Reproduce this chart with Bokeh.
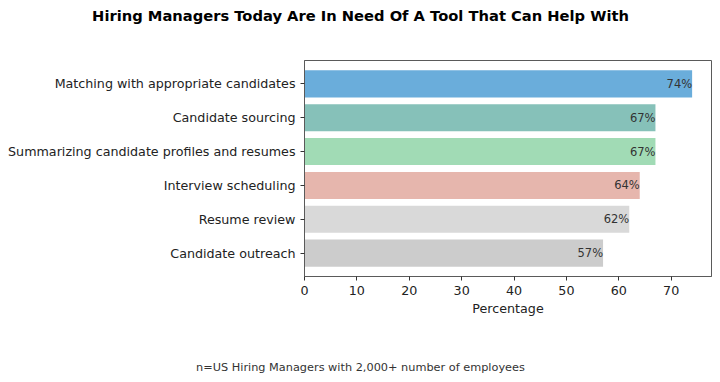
from bokeh.plotting import figure
from bokeh.models import ColumnDataSource, Range1d, FixedTicker
from bokeh.layouts import column, row
from bokeh.core.properties import value
from bokeh.embed import file_html
from bokeh.resources import INLINE

categories = [
    "Matching with appropriate candidates",
    "Candidate sourcing",
    "Summarizing candidate profiles and resumes",
    "Interview scheduling",
    "Resume review",
    "Candidate outreach",
]
percentages = [74, 67, 67, 64, 62, 57]
colors = ["#6AADDB", "#86C1B9", "#A1DBB5", "#E6B6AD", "#D9D9D9", "#CCCCCC"]
x_ticks = [0, 10, 20, 30, 40, 50, 60, 70]
title_text = "Hiring Managers Today Are In Need Of A Tool That Can Help With"
x_label = "Percentage"
footnote = "n=US Hiring Managers with 2,000+ number of employees"

FONT = "DejaVu Sans"
W = 712


def text_strip(height, txt, y_from_top, size, style, color):
    f = figure(width=W, height=height, output_backend="svg", toolbar_location=None,
               x_range=Range1d(0, W), y_range=Range1d(0, height),
               x_axis_location=None, y_axis_location=None,
               min_border=0, min_border_left=0, min_border_right=0,
               min_border_top=0, min_border_bottom=0)
    f.xgrid.visible = False
    f.ygrid.visible = False
    f.outline_line_color = None
    f.text(x=[360], y=[height - y_from_top], text=[txt], text_align="center",
           text_baseline="middle", text_font=value(FONT), text_font_size=size,
           text_font_style=style, text_color=color)
    return f


top = text_strip(56, title_text, 15, "14.7px", "bold", "#000000")

n = len(categories)
ypos = [n - 1 - i for i in range(n)]
src = ColumnDataSource(dict(
    y=ypos,
    v=percentages,
    c=colors,
    lbl=[f"{v}%" for v in percentages],
))

p = figure(width=W, height=270, output_backend="svg", toolbar_location=None,
           x_range=Range1d(0, max(percentages) * 1.05),
           y_range=Range1d(-0.69, n - 1 + 0.69),
           min_border_left=304, min_border_right=1,
           min_border_top=4, min_border_bottom=50)

p.hbar(y="y", right="v", left=0, height=0.8, fill_color="c", line_color=None, source=src)
p.text(x="v", y="y", text="lbl", source=src, text_align="right", text_baseline="middle",
       text_font=value(FONT), text_font_size="11.5px", text_color="#333333")

p.xgrid.visible = False
p.ygrid.visible = False
p.outline_line_color = "#5a5a5a"
p.outline_line_width = 1

p.xaxis.ticker = FixedTicker(ticks=x_ticks)
p.yaxis.ticker = FixedTicker(ticks=ypos)
p.yaxis.major_label_overrides = {y: c for y, c in zip(ypos, categories)}
p.xaxis.axis_label = x_label

for ax in (p.xaxis[0], p.yaxis[0]):
    ax.axis_line_color = "#5a5a5a"
    ax.major_tick_line_color = "#333333"
    ax.major_tick_out = 4
    ax.major_tick_in = 0
    ax.minor_tick_line_color = None
    ax.major_label_text_font = FONT
    ax.major_label_text_font_size = "12.7px"
    ax.major_label_text_color = "#222222"
    ax.axis_label_text_font = FONT
    ax.axis_label_text_font_size = "12.7px"
    ax.axis_label_text_font_style = "normal"
    ax.axis_label_text_color = "#222222"
    ax.axis_label_standoff = 3

bottom = text_strip(48, footnote, 41, "11.3px", "normal", "#333333")

layout = column(row(top, spacing=0), p, row(bottom, spacing=0), spacing=0)
open("out.html", "w").write(file_html(layout, INLINE))
